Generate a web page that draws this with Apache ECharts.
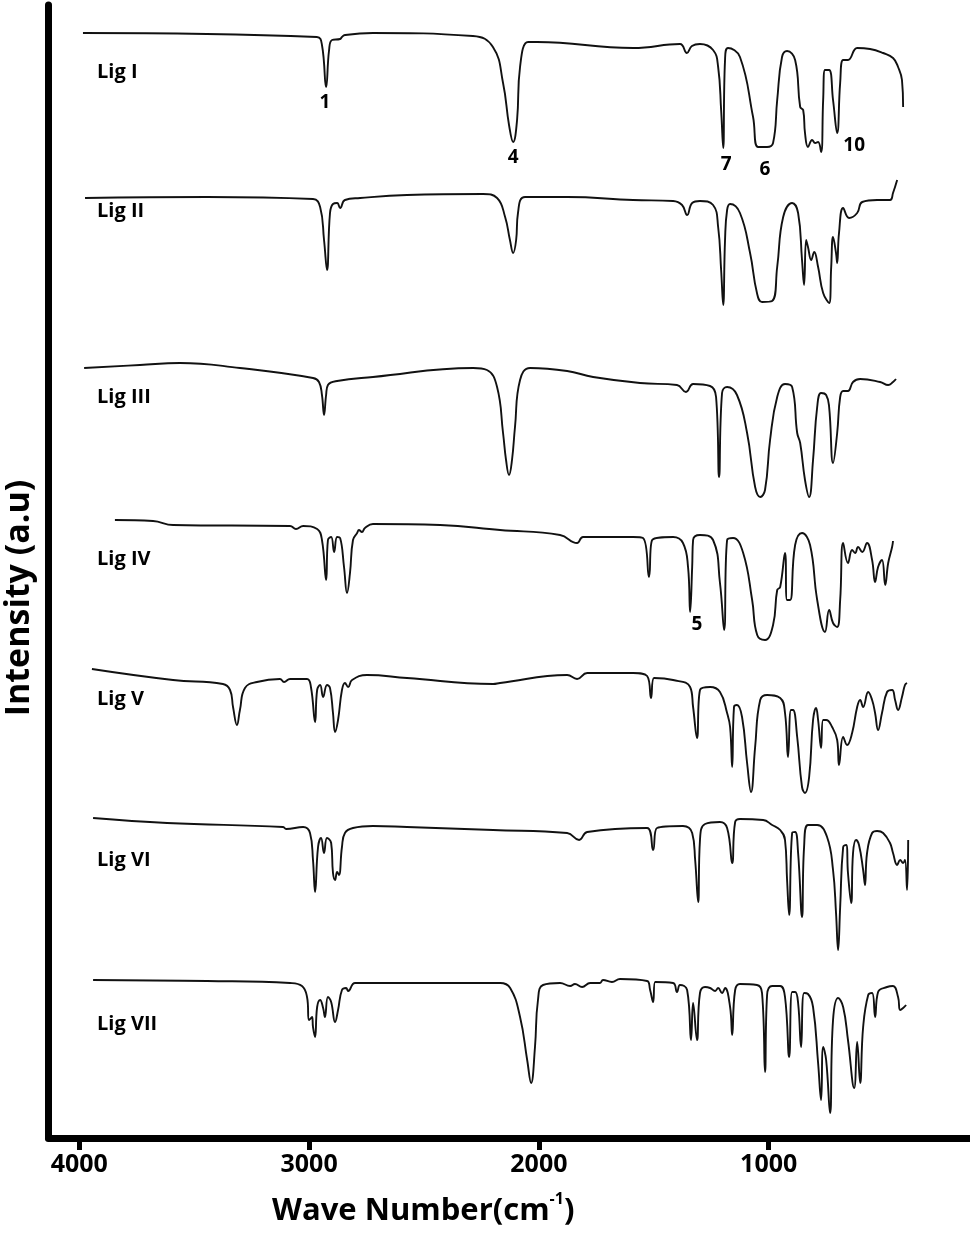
<!DOCTYPE html>
<html>
<head>
<meta charset="utf-8">
<script src="https://cdn.jsdelivr.net/npm/echarts@6/dist/echarts.min.js"></script>
<style>
html,body{margin:0;padding:0;background:#fff;}
#chart{width:970px;height:1233px;}
</style>
</head>
<body>
<div id="chart"></div>
<script>
// ---- data: [wavenumber (cm-1), intensity (a.u., stacked)] ----
const ligI = [[3984,1105],[2966,1101],[2944,1093],[2926,1051],[2913,1088],[2900,1098],[2865,1099],[2857,1101],[2844,1103],[2722,1105],[2287,1102],[2200,1091],[2156,1055],[2130,1013],[2112,996],[2095,1018],[2082,1071],[2047,1096],[2008,1096],[1590,1090],[1386,1094],[1356,1085],[1334,1092],[1299,1094],[1242,1088],[1220,1071],[1207,1028],[1198,990],[1190,1078],[1177,1090],[1125,1081],[1068,1021],[1046,991],[1007,991],[981,995],[963,1038],[942,1081],[920,1087],[885,1078],[863,1031],[850,1028],[842,1005],[829,991],[811,998],[798,995],[785,996],[772,986],[763,1038],[755,1068],[737,1068],[720,1038],[702,1005],[689,1055],[676,1078],[655,1078],[615,1090],[559,1089],[502,1085],[459,1080],[437,1071],[420,1058],[415,1031]];
const ligII = [[3975,940],[3444,941],[2983,939],[2952,931],[2935,898],[2922,868],[2909,925],[2896,934],[2878,935],[2865,930],[2844,938],[2778,940],[2574,943],[2243,944],[2182,940],[2147,921],[2126,898],[2112,885],[2099,898],[2091,925],[2060,941],[1877,941],[1590,938],[1416,937],[1377,933],[1355,923],[1333,935],[1299,937],[1242,933],[1220,911],[1207,868],[1198,833],[1190,898],[1181,928],[1168,934],[1125,925],[1081,885],[1051,845],[1029,836],[985,837],[963,871],[937,921],[898,935],[872,925],[855,878],[846,853],[837,898],[829,891],[815,878],[802,886],[785,871],[763,845],[737,835],[728,871],[720,901],[707,885],[702,875],[694,905],[676,930],[650,920],[615,925],[593,936],[528,938],[472,938],[459,945],[441,958]];
const ligIII = [[3979,770],[3736,773],[3562,775],[3301,770],[2983,760],[2957,756],[2944,743],[2935,723],[2926,743],[2918,753],[2878,757],[2722,761],[2286,770],[2226,768],[2182,751],[2156,705],[2143,678],[2130,663],[2117,678],[2104,711],[2082,758],[2038,770],[1877,767],[1764,761],[1560,755],[1399,753],[1360,746],[1329,754],[1255,752],[1229,741],[1216,661],[1203,745],[1181,751],[1138,743],[1094,705],[1059,651],[1037,641],[1016,648],[994,698],[963,741],[929,754],[898,751],[876,705],[863,695],[842,658],[824,641],[807,678],[789,731],[772,745],[750,743],[737,731],[720,675],[702,705],[689,741],[676,747],[655,747],[633,756],[602,759],[515,756],[480,753],[459,756],[446,759]];
const ligIV = [[3845,618],[3679,617],[3592,613],[3083,612],[3057,609],[3026,612],[2965,609],[2944,598],[2926,558],[2918,598],[2904,601],[2891,586],[2878,601],[2865,600],[2848,571],[2835,545],[2822,565],[2809,598],[2791,605],[2783,608],[2770,606],[2757,610],[2722,614],[2430,613],[2169,608],[1908,603],[1834,595],[1808,601],[1590,601],[1547,600],[1521,561],[1507,598],[1416,601],[1373,595],[1351,571],[1342,526],[1333,571],[1329,598],[1299,603],[1242,598],[1212,555],[1194,508],[1181,598],[1155,600],[1111,585],[1072,538],[1050,503],[1016,498],[981,513],[963,548],[950,551],[929,585],[920,538],[907,538],[885,593],[855,605],[820,593],[789,538],[755,506],[737,528],[720,515],[702,511],[689,538],[676,595],[655,575],[637,588],[624,585],[611,591],[593,586],[572,595],[550,578],[537,556],[524,571],[507,578],[493,553],[480,575],[463,591],[459,597]];
const ligV = [[3945,469],[3592,458],[3375,454],[3344,448],[3331,431],[3314,413],[3301,428],[3279,450],[3227,456],[3127,459],[3109,456],[3083,459],[3009,459],[2992,451],[2974,416],[2965,448],[2952,453],[2939,441],[2922,453],[2909,450],[2896,425],[2887,406],[2874,418],[2857,448],[2844,455],[2830,451],[2813,458],[2748,463],[2574,460],[2199,454],[2169,455],[1877,463],[1834,459],[1790,465],[1590,465],[1529,462],[1512,440],[1499,460],[1416,458],[1342,451],[1329,431],[1312,400],[1299,448],[1255,451],[1212,446],[1181,425],[1168,411],[1159,371],[1151,431],[1138,433],[1116,421],[1094,375],[1077,346],[1059,391],[1037,438],[1007,443],[950,440],[929,425],[916,381],[903,428],[894,428],[876,401],[855,351],[842,345],[824,361],[807,418],[794,430],[785,418],[772,390],[763,418],[750,418],[724,411],[702,398],[694,373],[676,401],[659,393],[637,405],[615,431],[602,438],[589,431],[567,446],[550,438],[537,425],[524,408],[507,425],[485,446],[463,448],[450,438],[437,428],[420,441],[407,453],[398,455]];
const ligVI = [[3940,320],[3618,315],[3113,311],[3100,309],[3026,311],[2996,305],[2983,278],[2974,246],[2961,291],[2948,300],[2935,285],[2922,300],[2904,295],[2896,265],[2887,258],[2878,266],[2870,263],[2857,291],[2844,305],[2809,310],[2722,312],[2574,311],[2199,308],[1877,305],[1825,298],[1790,306],[1529,310],[1503,288],[1486,310],[1373,312],[1333,305],[1320,278],[1307,236],[1299,298],[1277,314],[1212,316],[1181,310],[1159,275],[1146,316],[1125,319],[1024,318],[985,313],[950,308],[929,298],[920,258],[911,223],[898,305],[885,306],[872,285],[855,221],[846,291],[829,313],[789,313],[746,301],[720,268],[707,225],[698,188],[689,231],[676,291],[663,293],[655,265],[641,235],[633,285],[620,298],[607,293],[589,268],[581,253],[572,285],[550,305],[528,307],[502,305],[472,295],[459,285],[441,273],[428,278],[415,275],[407,278],[398,248],[393,298]];
const ligVII = [[3940,158],[3444,157],[3083,155],[3031,152],[3009,141],[3000,118],[2987,121],[2983,111],[2974,101],[2965,131],[2952,138],[2939,130],[2931,121],[2918,141],[2904,136],[2887,116],[2874,128],[2857,148],[2839,150],[2830,147],[2800,155],[2574,155],[2169,155],[2125,150],[2082,121],[2051,78],[2034,55],[2017,91],[2004,138],[1982,153],[1908,155],[1864,152],[1843,154],[1812,151],[1777,155],[1734,155],[1721,158],[1682,156],[1647,159],[1529,157],[1516,148],[1503,136],[1494,156],[1416,155],[1399,146],[1386,153],[1355,148],[1338,98],[1329,135],[1312,98],[1299,145],[1277,151],[1255,150],[1233,147],[1220,150],[1203,145],[1190,150],[1168,131],[1159,103],[1146,148],[1125,154],[1051,153],[1029,145],[1016,66],[1007,143],[985,152],[950,152],[929,141],[911,81],[898,146],[885,146],[872,135],[859,91],[846,145],[829,144],[807,131],[785,75],[772,38],[763,91],[750,78],[733,25],[720,118],[698,140],[676,131],[655,98],[628,50],[615,96],[602,55],[589,111],[567,143],[550,145],[537,121],[524,146],[485,151],[459,152],[437,141],[428,128],[415,130],[402,133]];

const seriesNames = ['Lig I','Lig II','Lig III','Lig IV','Lig V','Lig VI','Lig VII'];
const seriesData = [ligI, ligII, ligIII, ligIV, ligV, ligVI, ligVII];
// anchor [wavenumber, intensity] for each trace name label
const nameAnchors = [[3923,1066],[3923,927],[3923,741],[3923,579],[3923,439],[3923,278],[3923,114]];
// peak-number annotations: [label, wavenumber, intensity, series index]
const peakLabels = [['1',2931,1035,0],['4',2112,980,0],['7',1185,973,0],['6',1016,968,0],['10',628,992,0],['5',1312,513,3]];
const tickLabels = [4000, 3000, 2000, 1000];

const FONT = '"Open Sans", "Noto Sans", sans-serif';
const chart = echarts.init(document.getElementById('chart'), null, {renderer: 'canvas'});

const series = seriesData.map((d, i) => {
  const mp = [{name: seriesNames[i], coord: nameAnchors[i], label: {align: 'left', fontSize: 20}}];
  peakLabels.filter(p => p[3] === i).forEach(p => mp.push({name: p[0], coord: [p[1], p[2]], label: {align: 'center', fontSize: 19}}));
  return {
    type: 'line',
    name: seriesNames[i],
    data: d,
    showSymbol: false,
    smooth: 0.45,
    lineStyle: {color: '#111', width: 1.9},
    silent: true,
    markPoint: {
      symbol: 'circle', symbolSize: 1,
      itemStyle: {color: 'rgba(0,0,0,0)'},
      label: {show: true, position: 'inside', formatter: '{b}', color: '#000', fontWeight: 'bold', fontFamily: FONT, verticalAlign: 'middle'},
      data: mp
    }
  };
});

chart.setOption({
  animation: false,
  backgroundColor: '#fff',
  grid: {left: 48.5, right: 0, top: 5, bottom: 95, containLabel: false},
  xAxis: {
    type: 'value', min: 124, max: 4134, inverse: true,
    axisLine: {show: true, onZero: false, lineStyle: {color: '#000', width: 7}},
    axisTick: {show: true, customValues: tickLabels, length: 12, lineStyle: {color: '#000', width: 5}},
    axisLabel: {customValues: tickLabels, formatter: v => String(v), margin: 14, color: '#000', fontFamily: FONT, fontWeight: 'bold', fontSize: 25},
    splitLine: {show: false}
  },
  yAxis: {
    type: 'value', min: 0, max: 1133,
    axisLine: {show: true, onZero: false, lineStyle: {color: '#000', width: 7}},
    axisTick: {show: false}, axisLabel: {show: false}, splitLine: {show: false}
  },
  title: {
    text: '{a|Wave Number(cm}{s|-1}{a|)}',
    left: 272, top: 1191, padding: 0,
    textStyle: {
      rich: {
        a: {fontFamily: FONT, fontWeight: 'bold', fontSize: 31, color: '#000', lineHeight: 40},
        s: {fontFamily: FONT, fontWeight: 'bold', fontSize: 16, color: '#000', lineHeight: 20, verticalAlign: 'top'}
      }
    }
  },
  graphic: [{
    type: 'text', x: 19, y: 598, rotation: Math.PI / 2,
    style: {text: 'Intensity (a.u)', fontFamily: FONT, fontWeight: 'bold', fontSize: 34, fill: '#000', align: 'center', verticalAlign: 'middle'}
  }],
  series: series
});
</script>
</body>
</html>
